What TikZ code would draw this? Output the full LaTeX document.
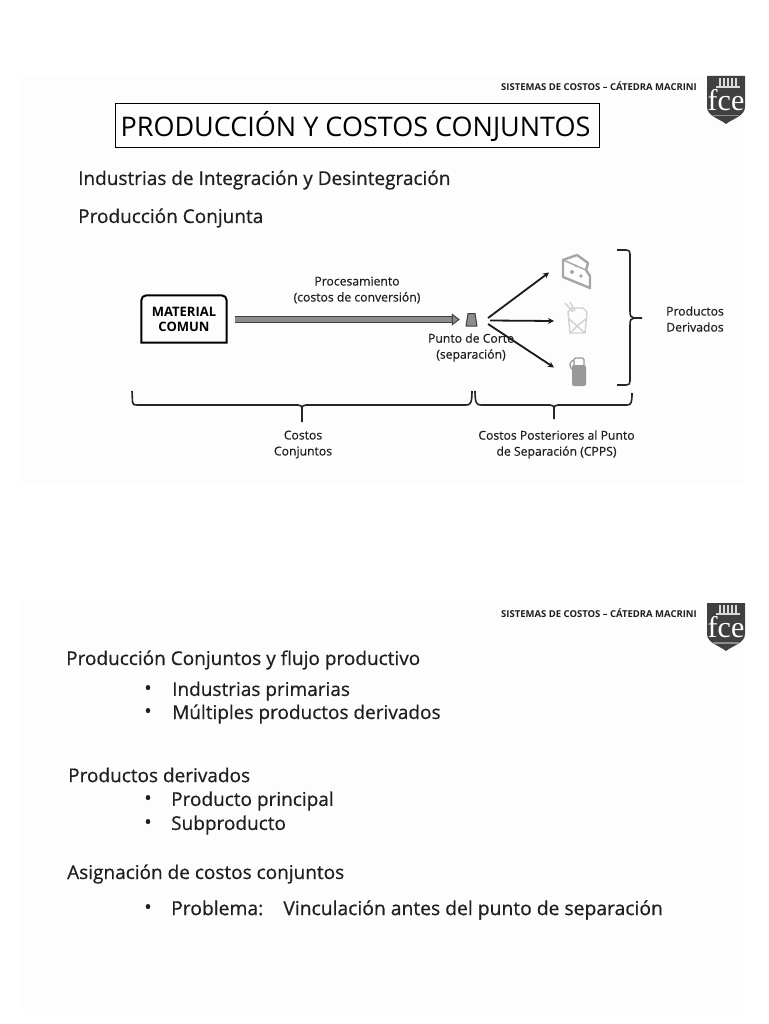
\documentclass[tikz,border=0pt]{standalone}
\usepackage{fontspec}
\setmainfont{Open Sans}
\newfontfamily\serifb{Liberation Serif}
\usetikzlibrary{arrows.meta}
\newcommand{\heavy}{\addfontfeature{FakeBold=0.5}}
\tikzset{
 ink/.style={text=black!88,inner sep=0pt},
 head/.style={ink,anchor=west,font=\fontsize{19}{22}\selectfont\heavy},
 sub/.style={ink,anchor=west,font=\fontsize{19}{22}\selectfont\heavy},
 lab/.style={ink,align=center,font=\fontsize{12.2}{16}\selectfont\heavy},
 bul/.style={ink,anchor=center,font=\fontsize{20}{22}\selectfont\heavy},
 hdr/.style={ink,font=\fontsize{9.5}{10}\bfseries\selectfont},
 brace/.style={draw=black!85,line width=1.6pt,line join=round},
 thinarrow/.style={draw=black!90,line width=1.8pt,-{Stealth[length=6pt,width=6pt]}},
 iconln/.style={draw=black!35,line width=2.4pt,line join=round},
}
\newcommand{\fcelogo}[1]{%
 \begin{scope}[shift={(0,#1)}]
  \fill[black!75] (707,76) -- (745,76) -- (745,107) .. controls (745,116) and (732,119) .. (726,124) .. controls (720,119) and (707,116) .. (707,107) -- cycle;
  \foreach \xx in {719,723,727,731,735} {\fill[black!15] (\xx,78) rectangle ++(2,8);}
  \fill[black!15] (716,86) rectangle (740,88);
  \fill[black!45] (713,115) rectangle (739,116.5);
  \node[inner sep=0pt,text=white,font=\serifb\fontsize{30}{30}\selectfont] at (726,100) {fce};
 \end{scope}}
\begin{document}
\begin{tikzpicture}[x=1pt,y=-1pt]
\useasboundingbox (0,0) rectangle (768,1024);
\fill[black!0.6] (22,75) rectangle (745,485);
\fill[black!0.6] (22,600) rectangle (745,1010);

% ---- upper slide
\node[hdr] (hdrA) at (599,86) {SISTEMAS DE COSTOS – CÁTEDRA MACRINI};
\fcelogo{0}
\node[draw=black,line width=1pt,inner sep=0pt,minimum width=484pt,minimum height=44pt,text=black,font=\fontsize{27}{30}\selectfont] (title) at (357.5,126) {\hspace*{-4pt}PRODUCCIÓN Y COSTOS CONJUNTOS};
\node[head] (h1) at (78,180) {Industrias de Integración y Desintegración};
\node[head] (h2) at (78,218) {Producción Conjunta};

\node[minimum width=85pt,minimum height=47pt,inner sep=0pt,align=center,
  font=\fontsize{13}{15}\bfseries\selectfont,text=black] (mat) at (184,319) {MATERIAL\\COMUN};
\draw[draw=black,line width=2pt,line join=miter,rounded corners=5pt] (mat.south west) -- (mat.north west) -- (mat.north east) [sharp corners] -- (mat.south east) -- cycle;
\node[minimum width=11pt,minimum height=13pt,inner sep=0pt] (cut) at (471.5,319.5) {};
\filldraw[draw=black!75,fill=black!45,line width=1pt,line join=round] (466,326) -- (468,313.5) -- (475,313.5) -- (477,326) -- cycle;
\draw[draw=black!75,line width=1pt,double=black!45,double distance=5pt,
  -{Triangle[open,length=8pt,width=12pt,fill=black!45]},shorten <=8pt,shorten >=6pt] (mat.east|-cut.west) -- (cut.west);
\node[lab] (proc) at (357,290) {Procesamiento\\(costos de conversión)};
\node[lab] (punto) at (471,347.5) {Punto de Corte\\(separación)};

% icons
\draw[iconln] (563,260) -- (577,255) -- (588,263) -- (586,270) -- (590,276) -- (590,288) -- (563,277) -- cycle;
\draw[iconln,line width=1.4pt] (563,260) -- (586,270);
\fill[black!35] (572,272) circle (2pt) (581,276) circle (1.8pt) (576,266) circle (1.4pt);
\draw[draw=black!18,line width=1.4pt,line join=round] (568,312) -- (572,308) -- (583,308) -- (587,312) -- (585,333) -- (570,333) -- cycle (568,318) -- (577,326) -- (587,318) (570,333) -- (577,326) -- (585,333) (565,303) -- (573,312) (570,302) -- (575,311);
\fill[black!40,rounded corners=2pt] (572,365) rectangle (586,386);
\draw[draw=black!40,line width=1.2pt,rounded corners=1.5pt] (574,365) -- (574,358) -- (584,358) -- (584,365) (574,360) -- (570,362) -- (570,367) -- (572,369);

\coordinate (s1) at (488,318);
\coordinate (s2) at (490,320.5);
\coordinate (s3) at (488,324);
\coordinate (e1) at (549,272.5);
\coordinate (e2) at (554,321);
\coordinate (e3) at (554,367.5);
\draw[thinarrow] (s1) -- (e1);
\draw[thinarrow] (s2) -- (e2);
\draw[thinarrow] (s3) -- (e3);

% braces
\draw[brace] (617,250) -- (626,250) .. controls (629,250) and (630,251) .. (630,254) -- (630,311) .. controls (630,316) and (631,318) .. (634,318) -- (642,318) (634,318) .. controls (631,318) and (630,320) .. (630,325) -- (630,381) .. controls (630,384) and (629,385) .. (626,385) -- (617,385);
\node[lab] (prod) at (695,319) {Productos\\Derivados};
\draw[brace] (132,391) -- (132.5,402) .. controls (133,405) and (134,405) .. (137,405) -- (298,405) .. controls (301,405) and (302,406) .. (302,410) -- (302,422) (302,410) .. controls (302,406) and (303,405) .. (306,405) -- (466,405) .. controls (470,405) and (472,404) .. (472,391);
\node[lab] (cc) at (303,444.5) {Costos\\Conjuntos};
\draw[brace] (475,391) .. controls (475,404) and (477,405) .. (481,405) -- (550,405) .. controls (553,405) and (554,406) .. (554,410) -- (554,419) (554,410) .. controls (554,406) and (555,405) .. (558,405) -- (627,405) .. controls (631,405) and (632,403) .. (632,393);
\node[lab] (cp) at (556.5,444.5) {Costos Posteriores al Punto\\de Separación (CPPS)};

% ---- lower slide
\node[hdr] (hdrB) at (599,613) {SISTEMAS DE COSTOS – CÁTEDRA MACRINI};
\fcelogo{527}
\node[sub] (a1) at (66,660) {Producción Conjuntos y flujo productivo};
\node[bul] (b1) at (148,690) {•};
\node[sub] (t1) at (172,691) {Industrias primarias};
\node[bul] (b2) at (148,713) {•};
\node[sub] (t2) at (172,714) {Múltiples productos derivados};
\node[sub] (a2) at (68,775) {Productos derivados};
\node[bul] (b3) at (148,800) {•};
\node[sub] (t3) at (171,801) {Producto principal};
\node[bul] (b4) at (148,824) {•};
\node[sub] (t4) at (171,825) {Subproducto};
\node[sub] (a3) at (67,874) {Asignación de costos conjuntos};
\node[bul] (b5) at (148,909) {•};
\node[sub,font=\fontsize{19.3}{22}\selectfont\heavy] (t5) at (171,910) {Problema:\ \ \ \ Vinculación antes del punto de separación};
\end{tikzpicture}
\end{document}
